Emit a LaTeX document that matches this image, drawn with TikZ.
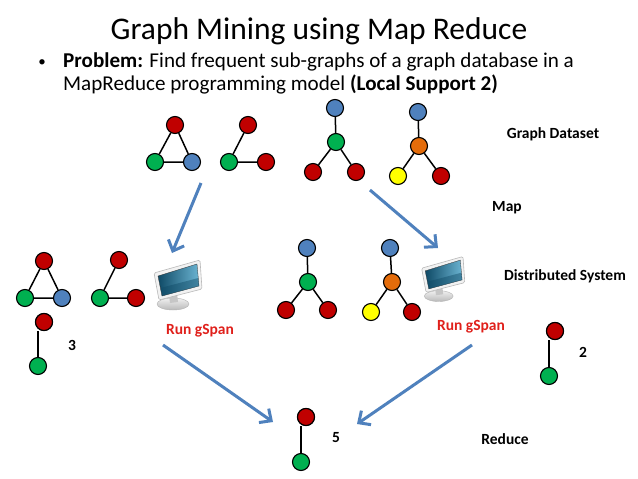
\documentclass[tikz,border=0pt]{standalone}
\usepackage{fontspec}
\setmainfont{Carlito}
\usetikzlibrary{arrows.meta}
\definecolor{vred}{HTML}{C00000}
\definecolor{vgreen}{HTML}{00B050}
\definecolor{vblue}{HTML}{4F81BD}
\definecolor{vorange}{HTML}{E46C0A}
\definecolor{vyellow}{HTML}{FFFF00}
\definecolor{arrowblue}{HTML}{4F81BD}
\definecolor{runred}{HTML}{E0201B}
\definecolor{scrtop}{HTML}{6BB4D2}
\definecolor{scrbot}{HTML}{0F4A66}
\tikzset{
  vtx/.style={circle, draw=black, line width=1.1pt, minimum size=17pt, inner sep=0pt},
  R/.style={vtx, fill=vred},
  G/.style={vtx, fill=vgreen},
  B/.style={vtx, fill=vblue},
  O/.style={vtx, fill=vorange},
  Y/.style={vtx, fill=vyellow},
  edge/.style={draw=black, line width=1.5pt},
  flow/.style={draw=arrowblue, line width=3pt, -{Straight Barb[length=9pt,width=17pt,line width=3pt]}},
  lab/.style={font=\bfseries\fontsize{15.5}{18}\selectfont, inner sep=0pt},
  runlab/.style={font=\bfseries\fontsize{15.5}{18}\selectfont, text=runred, inner sep=0pt},
  body/.style={inner sep=0pt, font=\fontsize{21.1}{23}\selectfont},
  monitor/.pic={
    \shade[top color=gray!12, bottom color=gray!55, draw=gray!60, line width=0.4pt] (23,49) ellipse [x radius=16, y radius=6];
    \fill[gray!45] (19,40) -- (27,38) -- (28,47) -- (20,48) -- cycle;
    \filldraw[fill=gray!10, draw=gray!55, line width=0.6pt, rounded corners=1.5pt] (4,18) -- (50,5) -- (52,34) -- (9,45) -- cycle;
    \shade[left color=scrbot, right color=scrtop, draw=gray!40!black, line width=0.3pt] (8,21) -- (47,9) -- (49,31) -- (12,41) -- cycle;
    \fill[scrbot, opacity=0.45] (12,41) -- (49,31) -- (48.3,23) -- (10.5,33) -- cycle;
  }
}
\begin{document}
\begin{tikzpicture}[x=1pt, y=-1pt]
\useasboundingbox (0,0) rectangle (638,479);
\fill[white] (0,0) rectangle (638,479);

% title and bullet text
\node[anchor=base, inner sep=0pt, font=\fontsize{31.5}{36}\selectfont] (title) at (319,39.5) {Graph Mining using Map Reduce};
\node[anchor=base, inner sep=0pt, font=\fontsize{15}{18}\selectfont] (bullet) at (42,66.5) {•};
\node[anchor=base west, body] (line1) at (63,67.5) {\textbf{Problem:} Find frequent sub-graphs of a graph database in a};
\node[anchor=base west, body] (line2) at (63,90.5) {MapReduce programming model \textbf{(Local Support 2)}};

% side labels
\node[lab] (ldata) at (553,134) {Graph Dataset};
\node[lab] (lmap) at (507,208) {Map};
\node[lab] (ldist) at (565,276) {Distributed System};
\node[lab] (lred) at (505,439) {Reduce};
\node[lab] (n3) at (72,345) {3};
\node[lab] (n5) at (336,438) {5};
\node[lab] (n2) at (583,352) {2};
\node[runlab] (run1) at (200,331) {Run gSpan};
\node[runlab] (run2) at (471,327) {Run gSpan};

% monitors
\pic (mon1) at (150,255) {monitor};
\pic[scale=0.9] (mon2) at (418,252) {monitor};

% top graph dataset
\node[R] (a1) at (175,125) {};
\node[G] (a2) at (155,162) {};
\node[B] (a3) at (192,162) {};
\draw[edge] (a1) -- (a2) (a1) -- (a3) (a2) -- (a3);

\node[R] (b1) at (248,125) {};
\node[G] (b2) at (229,162) {};
\node[R] (b3) at (266,162) {};
\draw[edge] (b1) -- (b2) (b2) -- (b3);

\node[B] (c1) at (335,108) {};
\node[G] (c2) at (336,142) {};
\node[R] (c3) at (313,172) {};
\node[R] (c4) at (356,172) {};
\draw[edge] (c1) -- (c2) (c2) -- (c3) (c2) -- (c4);

\node[B] (d1) at (418,112) {};
\node[O] (d2) at (419,146) {};
\node[Y] (d3) at (398,176) {};
\node[R] (d4) at (441,176) {};
\draw[edge] (d1) -- (d2) (d2) -- (d3) (d2) -- (d4);

% middle left partition
\node[R] (e1) at (44,261) {};
\node[G] (e2) at (25,298) {};
\node[B] (e3) at (62,298) {};
\draw[edge] (e1) -- (e2) (e1) -- (e3) (e2) -- (e3);

\node[R] (f1) at (119,260) {};
\node[G] (f2) at (100,298) {};
\node[R] (f3) at (136,298) {};
\draw[edge] (f1) -- (f2) (f2) -- (f3);

\node[G] (g2) at (38,366) {};
\node[R] (g1) at (44,322) {};
\draw[edge] (g2) -- (g2 |- g1.south);
\node[R] at (g1) {};

% middle right partition
\node[B] (h1) at (307,248) {};
\node[G] (h2) at (308,282) {};
\node[R] (h3) at (286,310) {};
\node[R] (h4) at (328,310) {};
\draw[edge] (h1) -- (h2) (h2) -- (h3) (h2) -- (h4);

\node[B] (i1) at (390,248) {};
\node[O] (i2) at (392,282) {};
\node[Y] (i3) at (371,312) {};
\node[R] (i4) at (412,312) {};
\draw[edge] (i1) -- (i2) (i2) -- (i3) (i2) -- (i4);

% right result
\node[G] (j2) at (549,376) {};
\node[R] (j1) at (555,331) {};
\draw[edge] (j2) -- (j2 |- j1.south);
\node[R] at (j1) {};

% reduce result
\node[G] (k2) at (301,462) {};
\node[R] (k1) at (306,417) {};
\draw[edge] (k2) -- (k2 |- k1.south);
\node[R] at (k1) {};

% flow arrows
\coordinate (m1s) at (201,183);
\coordinate (m1e) at (172,253);
\coordinate (m2s) at (370,190);
\coordinate (m2e) at (438,248);
\coordinate (r1s) at (163,345);
\coordinate (r1e) at (273,422);
\coordinate (r2s) at (472,345);
\coordinate (r2e) at (357,424);
\draw[flow] (m1s) -- (m1e);
\draw[flow] (m2s) -- (m2e);
\draw[flow] (r1s) -- (r1e);
\draw[flow] (r2s) -- (r2e);
\end{tikzpicture}
\end{document}
